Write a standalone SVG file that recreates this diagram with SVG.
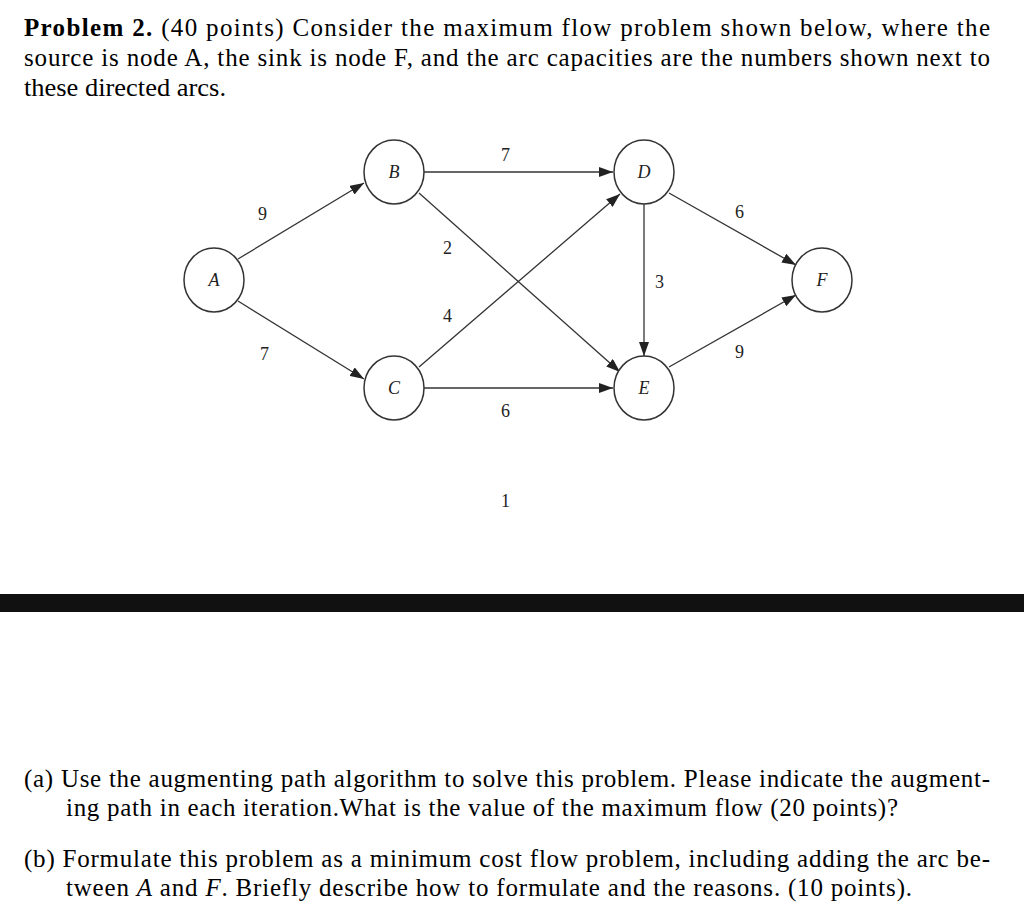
<svg xmlns="http://www.w3.org/2000/svg" width="1024" height="918" viewBox="0 0 1024 918">
<style>
.t{font-family:"Liberation Serif",serif;font-size:25px;fill:#000}
.n{fill:#fff;stroke:#333;stroke-width:1.5}
.l{font-family:"Liberation Serif",serif;font-size:18px;fill:#222}
.nl{font-family:"Liberation Serif",serif;font-size:18px;font-style:italic;fill:#222;text-anchor:middle}
.e{stroke:#333;stroke-width:1.3;fill:none;marker-end:url(#a)}
</style>
<defs><marker id="a" markerWidth="14" markerHeight="10" refX="14" refY="5" orient="auto" markerUnits="userSpaceOnUse"><path d="M0,0L14,5L0,10z" fill="#222"/></marker></defs>
<rect width="1024" height="918" fill="#fff"/>
<text class="t" x="24" y="36" textLength="966" lengthAdjust="spacing"><tspan font-weight="bold">Problem 2.</tspan> (40 points) Consider the maximum flow problem shown below, where the</text>
<text class="t" x="24" y="66" textLength="966" lengthAdjust="spacing">source is node A, the sink is node F, and the arc capacities are the numbers shown next to</text>
<text class="t" x="24" y="96" textLength="202" lengthAdjust="spacingAndGlyphs">these directed arcs.</text>
<g id="connectors">
<path class="e" d="M238,259L364,183"/>
<path class="e" d="M238,301L364,379"/>
<path class="e" d="M424,172L613,172"/>
<path class="e" d="M419,193L620,372"/>
<path class="e" d="M419,367L620,194"/>
<path class="e" d="M424,388L613,388"/>
<path class="e" d="M644,204L644,356"/>
<path class="e" d="M669,193L796,265"/>
<path class="e" d="M669,367L796,295"/>
</g>
<g id="A"><ellipse class="n" cx="214" cy="280" rx="30" ry="32"/><text class="nl" x="214" y="286">A</text></g>
<g id="B"><ellipse class="n" cx="394" cy="172" rx="30" ry="32"/><text class="nl" x="394" y="178">B</text></g>
<g id="C"><ellipse class="n" cx="394" cy="388" rx="30" ry="32"/><text class="nl" x="394" y="394">C</text></g>
<g id="D"><ellipse class="n" cx="644" cy="172" rx="30" ry="32"/><text class="nl" x="644" y="178">D</text></g>
<g id="E"><ellipse class="n" cx="644" cy="388" rx="30" ry="32"/><text class="nl" x="644" y="394">E</text></g>
<g id="F"><ellipse class="n" cx="822" cy="280" rx="30" ry="32"/><text class="nl" x="822" y="286">F</text></g>
<g id="labels">
<text class="l" x="258" y="220">9</text>
<text class="l" x="260" y="360">7</text>
<text class="l" x="501" y="161">7</text>
<text class="l" x="443" y="254">2</text>
<text class="l" x="443" y="322">4</text>
<text class="l" x="655" y="288">3</text>
<text class="l" x="735" y="218">6</text>
<text class="l" x="735" y="358">9</text>
<text class="l" x="501" y="417">6</text>
<text class="l" x="501" y="507">1</text>
</g>
<rect x="0" y="594" width="1024" height="18" fill="#111"/>
<text class="t" x="24" y="787" textLength="966" lengthAdjust="spacing">(a) Use the augmenting path algorithm to solve this problem. Please indicate the augment-</text>
<text class="t" x="66" y="816" textLength="832" lengthAdjust="spacing">ing path in each iteration.What is the value of the maximum flow (20 points)?</text>
<text class="t" x="24" y="867" textLength="966" lengthAdjust="spacing">(b) Formulate this problem as a minimum cost flow problem, including adding the arc be-</text>
<text class="t" x="66" y="896" textLength="846" lengthAdjust="spacing">tween <tspan font-style="italic">A</tspan> and <tspan font-style="italic">F</tspan>. Briefly describe how to formulate and the reasons. (10 points).</text>
</svg>
